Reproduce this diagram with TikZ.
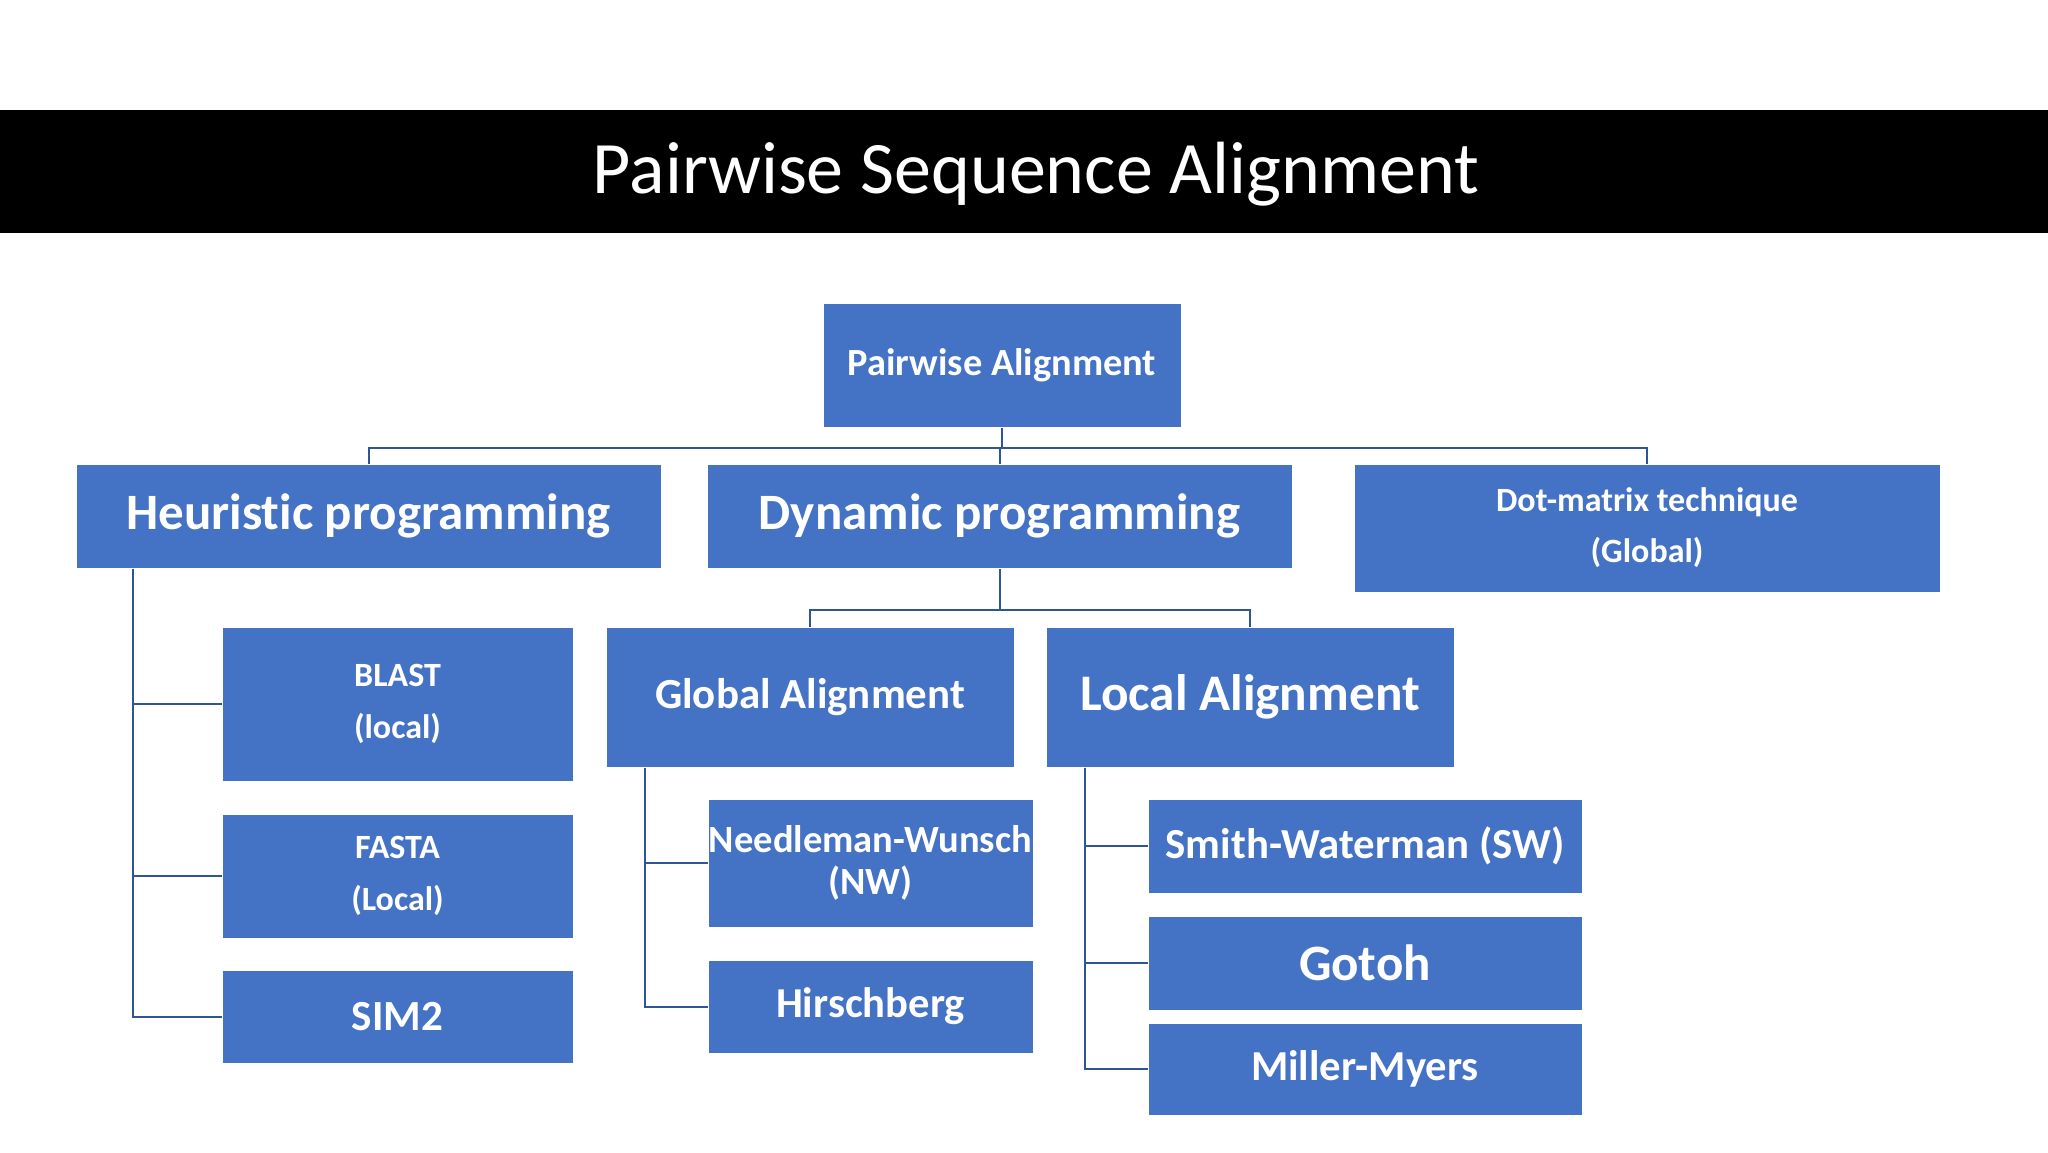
\documentclass[tikz,border=0pt]{standalone}
\usepackage{fontspec}
\setmainfont{Carlito}[Ligatures=NoCommon]
\usepackage{xcolor}
\definecolor{boxblue}{HTML}{4472C4}
\definecolor{linkblue}{HTML}{2F5597}
\newcommand{\fsz}[2]{\fontsize{#1}{#2}\selectfont\bfseries}

\begin{document}
\begin{tikzpicture}[x=1pt,y=-1pt,
    leaf/.style={fill=boxblue,draw=white,line width=1pt,text=white,align=center,inner sep=0pt},
    link/.style={draw=linkblue,line width=2pt}]
        \useasboundingbox[fill=white] (0,0) rectangle (2048,1152);
        % title band
        \fill[black] (0,110) rectangle (2048,232.5);
        \node[anchor=base,white,font=\fontsize{74}{84}\selectfont] (title) at (1036,193) {Pairwise Sequence Alignment};
        % top level
        \node[leaf,minimum width=358pt,minimum height=124pt,font=\fsz{38.4}{44}] (pairwise) at (1002,365) {Pairwise Alignment};
        \node[leaf,minimum width=585pt,minimum height=104pt,font=\fsz{51}{58}] (heur) at (368.5,516) {Heuristic programming};
        \node[leaf,minimum width=585pt,minimum height=104pt,font=\fsz{51}{58}] (dynprog) at (999.5,516) {Dynamic programming};
        \node[leaf,minimum width=586pt,minimum height=128pt,font=\fsz{34}{51}] (dotmat) at (1647,528) {Dot-matrix technique\\(Global)};
        % heuristic branch
        \node[leaf,minimum width=351pt,minimum height=154pt,font=\fsz{34}{52}] (blast) at (397.5,704) {BLAST\\(local)};
        \node[leaf,minimum width=351pt,minimum height=124pt,font=\fsz{34}{52}] (fasta) at (397.5,876) {FASTA\\(Local)};
        \node[leaf,minimum width=351pt,minimum height=93pt,font=\fsz{43}{50}] (simtwo) at (397.5,1016.5) {SIM2};
        % dynamic branch
        \node[leaf,minimum width=408pt,minimum height=140pt,font=\fsz{42.9}{50}] (global) at (810,697) {Global Alignment};
        \node[leaf,minimum width=408pt,minimum height=140pt,font=\fsz{51.3}{58}] (local) at (1250,697) {Local Alignment};
        \node[leaf,minimum width=325pt,minimum height=128pt,font=\fsz{38.5}{42}] (nw) at (870.5,863) {Needleman-Wunsch\\(NW)};
        \node[leaf,minimum width=325pt,minimum height=93pt,font=\fsz{42.6}{50}] (hirsch) at (870.5,1006.5) {Hirschberg};
        \node[leaf,minimum width=434pt,minimum height=94pt,font=\fsz{42.8}{50}] (sw) at (1365,846) {Smith-Waterman (SW)};
        \node[leaf,minimum width=434pt,minimum height=94pt,font=\fsz{51}{58}] (gotoh) at (1365,963) {Gotoh};
        \node[leaf,minimum width=434pt,minimum height=92pt,font=\fsz{42.7}{50}] (millmy) at (1365,1069) {Miller-Myers};
        % connectors
        \coordinate (bus) at (1002,448);
        \coordinate (dsplit) at (999.5,610);
        \draw[link] (pairwise.south) -- (pairwise.south |- bus);
        \draw[link] (heur.north) -- (heur.north |- bus) -- (dotmat.north |- bus) -- (dotmat.north);
        \draw[link] (dynprog.north) -- (dynprog.north |- bus);
        \draw[link] ([xshift=57pt]heur.south west) |- (simtwo.west);
        \draw[link] ([xshift=57pt]heur.south west) |- (blast.west);
        \draw[link] ([xshift=57pt]heur.south west) |- (fasta.west);
        \draw[link] (dynprog.south) -- (dsplit);
        \draw[link] (global.north) |- (dsplit);
        \draw[link] (local.north) |- (dsplit);
        \draw[link] ([xshift=39pt]global.south west) |- (hirsch.west);
        \draw[link] ([xshift=39pt]global.south west) |- (nw.west);
        \draw[link] ([xshift=39pt]local.south west) |- (millmy.west);
        \draw[link] ([xshift=39pt]local.south west) |- (sw.west);
        \draw[link] ([xshift=39pt]local.south west) |- (gotoh.west);
      \end{tikzpicture}
\end{document}
